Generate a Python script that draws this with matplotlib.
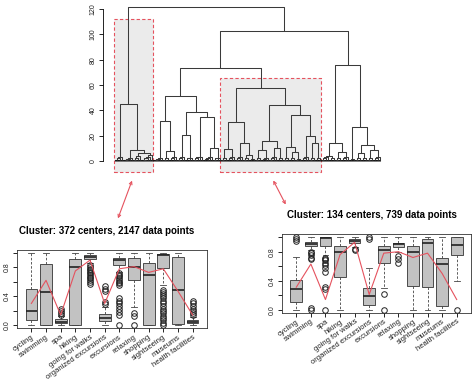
import matplotlib
matplotlib.use('Agg')
import matplotlib.pyplot as plt
from matplotlib.patches import Rectangle, FancyArrowPatch

plt.rcParams['font.family'] = ['Liberation Sans', 'DejaVu Sans']

W, H = 474, 380
RED = '#e5525e'

# two near-identical leaves merged right at the bottom
TWIG = (0.8, 0, 0)


def chain(*hs):
    # small clump of twigs merging one after another at the given heights
    t = TWIG
    for h in hs:
        t = (h, t, TWIG)
    return t


# dendrogram: (merge height, left, right), 0 is a leaf
left_cluster = (45, chain(0.5, 2, 3),
                (9, chain(0.5, 1, 1.5, 2.5),
                 (6.5, chain(1, 2, 4), chain(0.5, 1, 2, 3, 5))))
mid_left = (51,
            (31.6, chain(0.5, 1, 1.5, 2.5), (8, chain(1, 2), chain(0.5, 2, 3))),
            (39, (20.5, chain(1, 2, 3), chain(0.5, 2, 2.5)),
             (34.5, chain(1, 2, 3, 3.5),
              (10, chain(0.5, 1.5, 2, 3), chain(1, 2, 2.5)))))
mid_right = (57.6,
             (30.8, (9.5, chain(1, 2), chain(0.5, 2, 3)),
              (14, chain(1, 2, 3), (5, chain(1, 2), chain(0.5, 1.5)))),
             (44.5, (16, (9, chain(1, 2), chain(0.5, 1.5, 2)),
                     (10, chain(1, 2, 3), chain(0.5, 2))),
              (36, (11, chain(1, 2), (7, chain(0.5, 2), chain(1, 1.5))),
               (19.7, chain(0.5, 2, 3), (14.5, chain(1, 2), chain(0.5, 2))))))
right_cluster = (75.8,
                 (14, (4, chain(1, 2, 3), chain(0.5, 2)),
                  (7, chain(1, 2), chain(0.5, 2, 3))),
                 (27, chain(0.5, 1.5),
                  (13, (6, chain(1, 2), chain(0.5, 2)),
                   (9, chain(1, 2), chain(0.5, 2, 3)))))
tree = (121.3, left_cluster, (102.6, (73.7, mid_left, mid_right), right_cluster))
highlight = [(left_cluster, 111.8), (mid_right, 65.7)]

categories = ['cycling', 'swimming', 'spa', 'hiking', 'going for walks',
              'organized excursions', 'excursions', 'relaxing', 'shopping',
              'sightseeing', 'museums', 'health facilities']

# cluster 1: 372 centers
c1_title = 'Cluster: 372 centers, 2147 data points'
c1_whislo = [0, 0, 0, 0, 0.86, 0, 0.74, 0.25, 0, 0.56, 0, 0]
c1_q1 = [0.07, 0, 0.025, 0, 0.92, 0.055, 0.83, 0.63, 0, 0.79, 0.01, 0.03]
c1_med = [0.195, 0.46, 0.05, 0.81, 0.95, 0.1, 0.9, 0.81, 0.69, 0.97, 0.49, 0.05]
c1_q3 = [0.5, 0.84, 0.085, 0.92, 0.97, 0.15, 0.93, 0.93, 0.86, 0.98, 0.95, 0.07]
c1_whishi = [1, 1, 0.12, 1, 1, 0.25, 1, 1, 1, 1, 1, 0.11]
c1_fliers = [[], [], [0.14, 0.17, 0.2, 0.23], [],
             [0.57, 0.6, 0.62, 0.65, 0.67, 0.7, 0.72, 0.74, 0.76, 0.78, 0.8, 0.83],
             [0.29, 0.32, 0.47, 0.5, 0.54],
             [0, 0.14, 0.18, 0.22, 0.26, 0.3, 0.34, 0.37, 0.55, 0.58, 0.6, 0.62,
              0.65, 0.68, 0.7, 0.72],
             [0, 0.13, 0.17], [],
             [0, 0.03, 0.07, 0.1, 0.13, 0.17, 0.2, 0.23, 0.27, 0.3, 0.33, 0.37,
              0.4, 0.43, 0.46, 0.49],
             [], [0.14, 0.17, 0.2, 0.23, 0.27, 0.3, 0.34]]
c1_mean = [0.3, 0.62, 0.14, 0.75, 0.9, 0.3, 0.78, 0.81, 0.73, 0.78, 0.47, 0.14]

# cluster 2: 134 centers
c2_title = 'Cluster: 134 centers, 739 data points'
c2_whislo = [0, 0.82, 0.75, 0, 0.87, 0, 0.3, 0.8, 0, 0, 0, 0.39]
c2_q1 = [0.11, 0.88, 0.88, 0.45, 0.92, 0.06, 0.64, 0.87, 0.33, 0.31, 0.05, 0.75]
c2_med = [0.29, 0.91, 0.99, 0.79, 0.95, 0.19, 0.83, 0.9, 0.8, 0.92, 0.63, 0.89]
c2_q3 = [0.41, 0.94, 1.0, 0.88, 0.98, 0.3, 0.88, 0.92, 0.88, 0.97, 0.72, 1.0]
c2_whishi = [0.73, 1, 1, 1, 1, 0.57, 1, 1, 1, 1, 1, 1]
c2_fliers = [[0.95, 0.97, 1.0], [0, 0.02, 0.7, 0.72, 0.75, 0.78, 0.8],
             [0, 0.28, 0.32, 0.52, 0.58, 0.62, 0.65, 0.68, 0.7, 0.72], [],
             [0.82, 0.84], [0.97, 1.0], [0, 0.22], [0.65, 0.7, 0.74], [], [], [], [0]]
c2_mean = [0.31, 0.63, 0.14, 0.76, 0.93, 0.21, 0.78, 0.8, 0.72, 0.78, 0.5, 0.14]

fig = plt.figure(figsize=(W / 100, H / 100), dpi=100)


def px_axes(x0, y0, x1, y1):
    return fig.add_axes([x0 / W, 1 - y1 / H, (x1 - x0) / W, (y1 - y0) / H])


# ---------------- dendrogram ----------------
ax = px_axes(103, 5, 392, 165)
segs = []
spans = {}
leaf_pos = [0]


def walk(node):
    if node == 0:
        x = leaf_pos[0]
        leaf_pos[0] += 1
        return x, 0.0, x, x
    h, l, r = node
    xl, hl, a0, _ = walk(l)
    xr, hr, _, b1 = walk(r)
    segs.append(([xl, xl, xr, xr], [hl, h, h, hr], h))
    spans[id(node)] = (a0, b1)
    return (xl + xr) / 2, h, a0, b1


walk(tree)
n_leaves = leaf_pos[0]

for xs, ys, h in segs:
    c = '#111111' if h < 1 else '#3a3a3a'
    ax.plot(xs, ys, color=c, lw=0.75, solid_capstyle='butt', zorder=3)

d = 265 / (n_leaves - 1)
ax.set_xlim(-(115 - 103) / d, n_leaves - 1 + (392 - 380) / d)
ax.set_ylim(-(165 - 161) / (152 / 120), 120 + (9 - 5) / (152 / 120))

for node, top in highlight:
    a, b = spans[id(node)]
    ax.add_patch(Rectangle((a - 0.6 / d, -8.4), b - a + 1.2 / d, top + 8.4,
                           facecolor='#ebebeb', edgecolor=RED, lw=0.8,
                           ls=(0, (3, 2)), clip_on=False, zorder=1))

for s in ['top', 'right', 'bottom']:
    ax.spines[s].set_visible(False)
ax.spines['left'].set_bounds(0, 120)
ax.spines['left'].set_linewidth(0.6)
ax.set_xticks([])
ax.set_yticks([0, 20, 40, 60, 80, 100, 120])
ax.tick_params(axis='y', labelsize=5, labelrotation=90, length=3, width=0.6,
               pad=1.5, labelcolor='#222222')
for t in ax.get_yticklabels():
    t.set_va('center')
ax.patch.set_alpha(0)

# ---------------- boxplot panels ----------------
panels = [
    ((17, 250, 207, 328), c1_title, (107, 231),
     c1_whislo, c1_q1, c1_med, c1_q3, c1_whishi, c1_fliers, c1_mean),
    ((282, 234.3, 471, 312.6), c2_title, (372, 215),
     c2_whislo, c2_q1, c2_med, c2_q3, c2_whishi, c2_fliers, c2_mean),
]

for rect, title, tpos, wlo, q1, med, q3, whi, fl, mean in panels:
    bx = px_axes(*rect)
    stats = []
    for i in range(len(categories)):
        stats.append(dict(whislo=wlo[i], q1=q1[i], med=med[i], q3=q3[i],
                          whishi=whi[i], fliers=fl[i], label=categories[i]))
    pos = list(range(1, len(categories) + 1))
    bx.bxp(stats, positions=pos, widths=0.8, patch_artist=True, showfliers=True,
           boxprops=dict(facecolor='#c2c2c2', edgecolor='#333333', lw=0.6),
           medianprops=dict(color='#222222', lw=1.2),
           whiskerprops=dict(color='#444444', lw=0.6, ls=(0, (3, 2))),
           capprops=dict(color='#444444', lw=0.6), capwidths=0.4,
           flierprops=dict(marker='o', mfc='none', mec='#222222', ms=4, mew=0.7))
    bx.plot(pos, mean, color=RED, lw=0.8, zorder=5)
    bx.set_xlim(0.02, 12.98)
    bx.set_ylim(-0.04, 1.04)
    bx.set_yticks([0, 0.2, 0.4, 0.6, 0.8, 1.0])
    bx.set_yticklabels(['0.0', '', '0.4', '', '0.8', ''])
    bx.tick_params(axis='y', labelsize=5, labelrotation=90, length=3, width=0.6,
                   pad=1.5, labelcolor='#222222')
    for t in bx.get_yticklabels():
        t.set_va('center')
    bx.set_xticks(pos)
    bx.set_xticklabels(categories, rotation=35, ha='right', va='top',
                       rotation_mode='anchor', fontsize=5.5, color='#222222')
    bx.tick_params(axis='x', length=3, width=0.6, pad=1)
    for s in bx.spines.values():
        s.set_linewidth(0.6)
        s.set_color('#333333')
    fig.text(tpos[0] / W, 1 - tpos[1] / H, title, ha='center', va='center',
             fontsize=7, fontweight='bold')

# arrows from the highlighted clusters to their panels
for (xa, ya), (xb, yb) in [((133, 178), (117, 221)), ((272, 178), (287, 207))]:
    fig.add_artist(FancyArrowPatch((xa / W, 1 - ya / H), (xb / W, 1 - yb / H),
                                   transform=fig.transFigure, arrowstyle='<->',
                                   mutation_scale=5, color=RED, lw=0.8))

fig.savefig('out.png', dpi=100)
